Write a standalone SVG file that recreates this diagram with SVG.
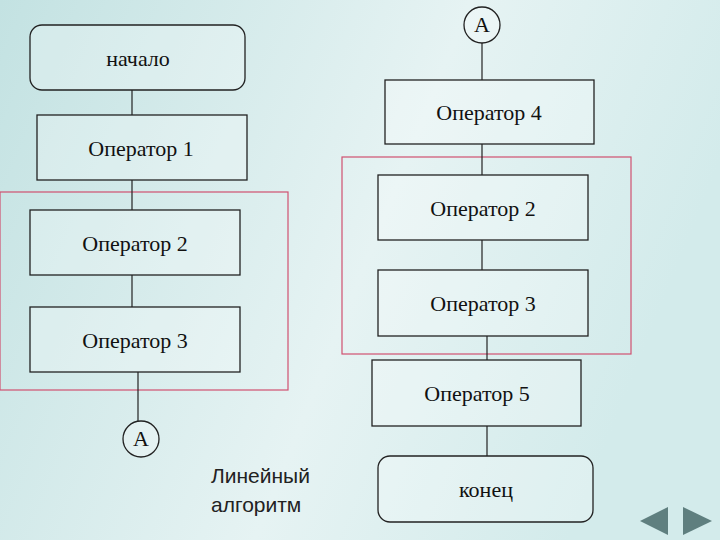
<svg xmlns="http://www.w3.org/2000/svg" width="720" height="540" viewBox="0 0 720 540">
<defs>
<linearGradient id="bg" x1="0" y1="0" x2="1" y2="0.3">
<stop offset="0" stop-color="#c3e2e2"/><stop offset="0.6" stop-color="#e6f3f3"/><stop offset="1" stop-color="#d3ebeb"/>
</linearGradient>
<style>
.b{fill:#ffffff;fill-opacity:0.25;stroke:#222;stroke-width:1.3}
.r{fill:none;stroke:#d05070;stroke-width:1.2}
.l{stroke:#222;stroke-width:1.2;fill:none}
.t{font-family:"Liberation Serif","Times New Roman","DejaVu Serif",serif;font-size:22px;fill:#111;text-anchor:middle}
.s{font-family:"Liberation Sans",sans-serif;font-size:21px;fill:#222}
</style>
</defs>
<rect width="720" height="540" fill="url(#bg)"/>
<rect class="r" x="0" y="192" width="288" height="198"/>
<rect class="r" x="342" y="157" width="289" height="197"/>
<g id="connectors">
<line class="l" x1="132" y1="90" x2="132" y2="115"/>
<line class="l" x1="132" y1="180" x2="132" y2="210"/>
<line class="l" x1="132" y1="275" x2="132" y2="307"/>
<line class="l" x1="138" y1="372" x2="138" y2="421"/>
<line class="l" x1="482" y1="43" x2="482" y2="80"/>
<line class="l" x1="482" y1="144" x2="482" y2="175"/>
<line class="l" x1="482" y1="240" x2="482" y2="270"/>
<line class="l" x1="487" y1="336" x2="487" y2="360"/>
<line class="l" x1="487" y1="426" x2="487" y2="456"/>
</g>
<g id="start"><rect class="b" x="30" y="25" width="215" height="65" rx="12"/><text class="t" x="138" y="66">начало</text></g>
<g id="op1"><rect class="b" x="37" y="115" width="210" height="65"/><text class="t" x="141" y="156">Оператор 1</text></g>
<g id="op2l"><rect class="b" x="30" y="210" width="210" height="65"/><text class="t" x="135" y="251">Оператор 2</text></g>
<g id="op3l"><rect class="b" x="30" y="307" width="210" height="65"/><text class="t" x="135" y="348">Оператор 3</text></g>
<g id="connA1"><circle class="b" cx="141" cy="439" r="18"/><text class="t" x="141" y="446">А</text></g>
<g id="connA2"><circle class="b" cx="482" cy="25" r="18"/><text class="t" x="482" y="32">А</text></g>
<g id="op4"><rect class="b" x="385" y="80" width="209" height="64"/><text class="t" x="489" y="120">Оператор 4</text></g>
<g id="op2r"><rect class="b" x="378" y="175" width="210" height="65"/><text class="t" x="483" y="216">Оператор 2</text></g>
<g id="op3r"><rect class="b" x="378" y="270" width="210" height="66"/><text class="t" x="483" y="311">Оператор 3</text></g>
<g id="op5"><rect class="b" x="372" y="360" width="209" height="66"/><text class="t" x="477" y="401">Оператор 5</text></g>
<g id="end"><rect class="b" x="378" y="456" width="215" height="66" rx="12"/><text class="t" x="486" y="497">конец</text></g>
<text class="s" x="211" y="483">Линейный</text>
<text class="s" x="211" y="512">алгоритм</text>
<polygon points="640,521 668,507 668,535" fill="#5f7f7f"/>
<polygon points="683,507 683,535 712,521" fill="#5f7f7f"/>
</svg>
